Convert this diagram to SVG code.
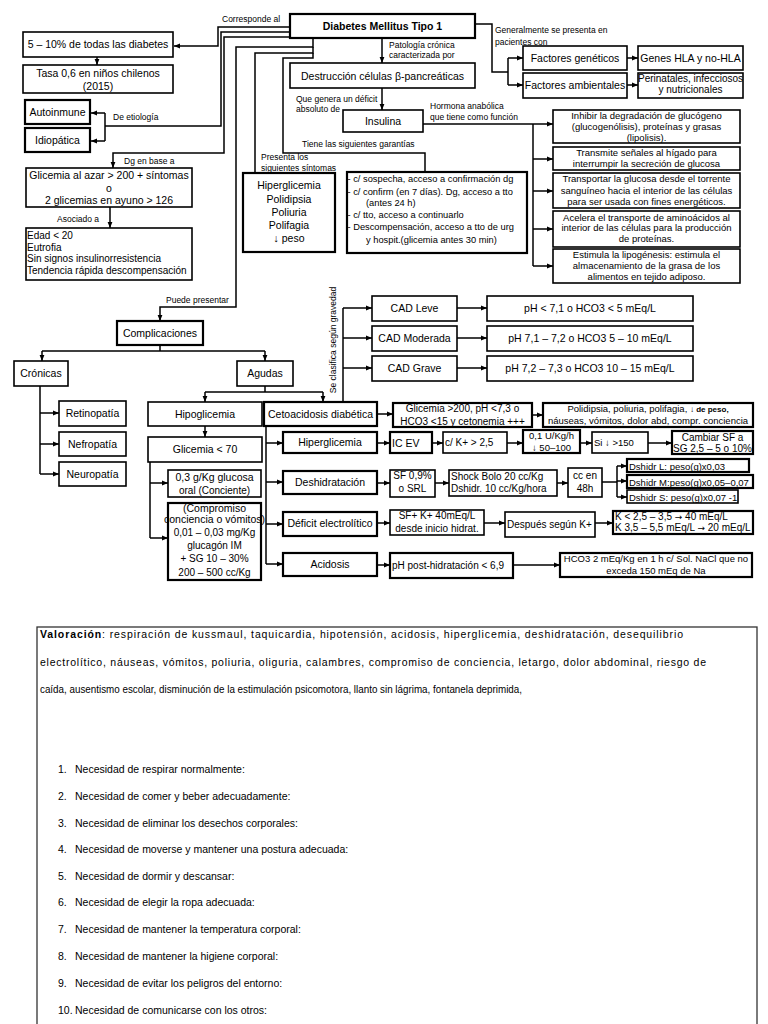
<svg xmlns="http://www.w3.org/2000/svg" width="768" height="1024" viewBox="0 0 768 1024">
<style>
text{font-family:"Liberation Sans",Arial,sans-serif;fill:#000;font-size:10.5px}
.b{fill:#fff;stroke:#000;stroke-width:1.6}
.bt{fill:#fff;stroke:#000;stroke-width:2.2}
.m{text-anchor:middle}
.l{font-size:8.5px}
.s{font-size:9.5px}
.s10{font-size:10px}
.g{font-size:9.3px}
.ar{font-family:"DejaVu Sans",sans-serif}
.c{fill:none;stroke:#000;stroke-width:1.5}
.a{marker-end:url(#ah)}
</style>
<defs>
<marker id="ah" viewBox="0 0 10 10" refX="10" refY="5" markerWidth="6" markerHeight="6" orient="auto" markerUnits="userSpaceOnUse"><path d="M0,1 L10,5 L0,9 z" fill="#000"/></marker>
</defs>
<rect width="768" height="1024" fill="#fff"/>

<g id="connectors">
<path class="c a" d="M290,27 H218 V46 H174"/>
<path class="c" d="M290,32 H221 V126 H105 M105,113 V141"/>
<path class="c a" d="M105,113 H91"/>
<path class="c a" d="M105,141 H91"/>
<path class="c a" d="M290,37 H224 V153 H113 V168"/>
<path class="c a" d="M97,57 V65"/>
<path class="c a" d="M110,207 V228"/>
<path class="c a" d="M313,38 V47 H236 V307 H160 V321"/>
<path class="c" d="M313,47 V53 H255 V173"/>
<path class="c" d="M313,53 V58 H283 V153 H425 V172"/>
<path class="c a" d="M382,38 V63"/>
<path class="c a" d="M382,88 V110"/>
<path class="c a" d="M423,124 H553"/>
<path class="c" d="M533,124 V266"/>
<path class="c a" d="M533,159 H553"/>
<path class="c a" d="M533,191 H553"/>
<path class="c a" d="M533,229 H553"/>
<path class="c a" d="M533,266 H553"/>
<path class="c" d="M475,24 H492 V72 H508 M508,58 V85"/>
<path class="c a" d="M508,58 H523"/>
<path class="c a" d="M508,85 H523"/>
<path class="c a" d="M627,58 H638"/>
<path class="c a" d="M627,85 H638"/>
<path class="c" d="M160,345 V351 M42,351 H265"/>
<path class="c a" d="M42,351 V361"/>
<path class="c a" d="M265,351 V361"/>
<path class="c" d="M40,386 V474"/>
<path class="c a" d="M40,413 H59"/>
<path class="c a" d="M40,444 H59"/>
<path class="c a" d="M40,474 H59"/>
<path class="c" d="M265,386 V392 M205,392 H323"/>
<path class="c a" d="M205,392 V402"/>
<path class="c a" d="M323,392 V402"/>
<path class="c a" d="M205,426 V437"/>
<path class="c" d="M150,462 V538"/>
<path class="c a" d="M150,483 H168"/>
<path class="c a" d="M150,538 H168"/>
<path class="c" d="M343,402 V308"/>
<path class="c a" d="M343,308 H372"/>
<path class="c a" d="M343,338 H372"/>
<path class="c a" d="M343,368 H372"/>
<path class="c a" d="M457,308 H487"/>
<path class="c a" d="M457,338 H487"/>
<path class="c a" d="M457,368 H487"/>
<path class="c a" d="M377,414 H393"/>
<path class="c a" d="M532,415 H543"/>
<path class="c" d="M266,426 V564"/>
<path class="c a" d="M266,443 H283"/>
<path class="c a" d="M266,482 H283"/>
<path class="c a" d="M266,524 H283"/>
<path class="c a" d="M266,564 H283"/>
<path class="c a" d="M377,443 H390"/>
<path class="c a" d="M377,483 H390"/>
<path class="c a" d="M377,523 H390"/>
<path class="c a" d="M377,565 H390"/>
<path class="c a" d="M432,443 H443"/>
<path class="c a" d="M507,443 H523"/>
<path class="c a" d="M580,443 H592"/>
<path class="c a" d="M648,443 H672"/>
<path class="c a" d="M435,483 H449"/>
<path class="c a" d="M557,483 H568"/>
<path class="c" d="M602,482 H617 M617,466 V497"/>
<path class="c a" d="M617,466 H627"/>
<path class="c a" d="M617,481 H627"/>
<path class="c a" d="M617,497 H627"/>
<path class="c a" d="M484,523 H505"/>
<path class="c a" d="M595,523 H613"/>
<path class="c a" d="M513,565 H560"/>
</g>

<g id="labels">
<text class="l" x="222" y="22">Corresponde al</text>
<text class="l" x="113" y="120">De etiología</text>
<text class="l" x="124" y="164">Dg en base a</text>
<text class="l" x="57" y="222">Asociado a</text>
<text class="l" x="166" y="303">Puede presentar</text>
<text class="l" x="389" y="48">Patología crónica</text>
<text class="l" x="389" y="58">caracterizada por</text>
<text class="l" x="296" y="102">Que genera un déficit</text>
<text class="l" x="296" y="112">absoluto de</text>
<text class="l" x="430" y="109">Hormona anabólica</text>
<text class="l" x="430" y="120">que tiene como función</text>
<text class="l" x="302" y="147">Tiene las siguientes garantías</text>
<text class="l" x="261" y="160">Presenta los</text>
<text class="l" x="261" y="171">siguientes síntomas</text>
<text class="l" x="495" y="33">Generalmente se presenta en</text>
<text class="l" x="495" y="45">pacientes con</text>
<text class="l m" transform="translate(336,340) rotate(-90)">Se clasifica según gravedad</text>
</g>

<g id="n-main"><rect class="bt" x="290" y="14" width="185" height="24"/><text class="m" x="382.5" y="30" font-weight="bold" font-size="11.5">Diabetes Mellitus Tipo 1</text></g>
<g id="n-pct"><rect class="b" x="23" y="32" width="150" height="25"/><text class="m" x="98" y="48">5 – 10% de todas las diabetes</text></g>
<g id="n-tasa"><rect class="b" x="23" y="65" width="150" height="28"/><text class="m" x="98" y="77">Tasa 0,6 en niños chilenos</text><text class="m" x="98" y="90">(2015)</text></g>
<g id="n-auto"><rect class="bt" x="25" y="100" width="65" height="24"/><text class="m" x="57.5" y="116">Autoinmune</text></g>
<g id="n-idio"><rect class="bt" x="25" y="128" width="65" height="24"/><text class="m" x="57.5" y="144">Idiopática</text></g>
<g id="n-glic"><rect class="b" x="26" y="168" width="166" height="39"/><text class="m" x="109" y="179">Glicemia al azar &gt; 200 + síntomas</text><text class="m" x="109" y="192">o</text><text class="m" x="109" y="204">2 glicemias en ayuno &gt; 126</text></g>
<g id="n-edad"><rect class="b" x="26" y="228" width="166" height="52"/><text class="s10" x="27" y="239">Edad &lt; 20</text><text class="s10" x="27" y="251">Eutrofia</text><text class="s10" x="27" y="262">Sin signos insulinorresistencia</text><text class="s10" x="27" y="274">Tendencia rápida descompensación</text></g>
<g id="n-destr"><rect class="b" x="290" y="63" width="185" height="25"/><text class="m" x="382.5" y="80">Destrucción células β-pancreáticas</text></g>
<g id="n-insul"><rect class="b" x="343" y="110" width="80" height="22"/><text class="m" x="383" y="125">Insulina</text></g>
<g id="n-sint"><rect class="bt" x="243" y="173" width="92" height="79"/><text class="m" x="289" y="189">Hiperglicemia</text><text class="m" x="289" y="203">Polidipsia</text><text class="m" x="289" y="216">Poliuria</text><text class="m" x="289" y="229">Polifagia</text><text class="m" x="289" y="242">↓ peso</text></g>
<g id="n-gar"><rect class="bt" x="347" y="172" width="180" height="81"/><text class="g" x="347.5" y="182">- c/ sospecha, acceso a confirmación dg</text><text class="g" x="347.5" y="195">- c/ confirm (en 7 días). Dg, acceso a tto</text><text class="g" x="366" y="206">(antes 24 h)</text><text class="g" x="347.5" y="218">- c/ tto, acceso a continuarlo</text><text class="g" x="347.5" y="230">- Descompensación, acceso a tto de urg</text><text class="g" x="366" y="243">y hospit.(glicemia antes 30 min)</text></g>
<g id="n-fg"><rect class="b" x="523" y="46" width="104" height="24"/><text class="m" x="575" y="62">Factores genéticos</text></g>
<g id="n-fa"><rect class="b" x="523" y="73" width="104" height="25"/><text class="m" x="575" y="89">Factores ambientales</text></g>
<g id="n-hla"><rect class="b" x="638" y="46" width="105" height="24"/><text class="m" x="690.5" y="62">Genes HLA y no-HLA</text></g>
<g id="n-peri"><rect class="b" x="638" y="73" width="105" height="25"/><text class="m s10" x="690.5" y="82">Perinatales, infecciosos</text><text class="m s10" x="690.5" y="93">y nutricionales</text></g>
<g id="n-f1"><rect class="b" x="553" y="110" width="187" height="33"/><text class="m s" x="646.5" y="118.5">Inhibir la degradación de glucógeno</text><text class="m s" x="646.5" y="130">(glucogenólisis), proteínas y grasas</text><text class="m s" x="646.5" y="141">(lipolisis).</text></g>
<g id="n-f2"><rect class="b" x="553" y="147" width="187" height="23"/><text class="m s" x="646.5" y="155.5">Transmite señales al hígado para</text><text class="m s" x="646.5" y="166.5">interrumpir la secreción de glucosa</text></g>
<g id="n-f3"><rect class="b" x="553" y="173" width="187" height="35"/><text class="m s" x="646.5" y="181.5">Transportar la glucosa desde el torrente</text><text class="m s" x="646.5" y="193.5">sanguíneo hacia el interior de las células</text><text class="m s" x="646.5" y="204.5">para ser usada con fines energéticos.</text></g>
<g id="n-f4"><rect class="b" x="553" y="211" width="187" height="36"/><text class="m s" x="646.5" y="220.5">Acelera el transporte de aminoácidos al</text><text class="m s" x="646.5" y="231">interior de las células para la producción</text><text class="m s" x="646.5" y="242">de proteínas.</text></g>
<g id="n-f5"><rect class="b" x="553" y="249" width="187" height="34"/><text class="m s" x="646.5" y="257.5">Estimula la lipogénesis: estimula el</text><text class="m s" x="646.5" y="268.5">almacenamiento de la grasa de los</text><text class="m s" x="646.5" y="279.5">alimentos en tejido adiposo.</text></g>

<g id="n-compl"><rect class="bt" x="117" y="321" width="86" height="24"/><text class="m" x="160" y="337">Complicaciones</text></g>
<g id="n-cron"><rect class="b" x="14" y="361" width="54" height="25"/><text class="m" x="41" y="377">Crónicas</text></g>
<g id="n-agud"><rect class="b" x="237" y="361" width="56" height="25"/><text class="m" x="265" y="377">Agudas</text></g>
<g id="n-retino"><rect class="b" x="59" y="401" width="67" height="25"/><text class="m" x="92.5" y="417">Retinopatía</text></g>
<g id="n-nefro"><rect class="b" x="59" y="432" width="67" height="24"/><text class="m" x="92.5" y="448">Nefropatía</text></g>
<g id="n-neuro"><rect class="b" x="59" y="462" width="67" height="24"/><text class="m" x="92.5" y="478">Neuropatía</text></g>
<g id="n-hipo"><rect class="b" x="148" y="402" width="114" height="24"/><text class="m" x="205" y="418">Hipoglicemia</text></g>
<g id="n-g70"><rect class="b" x="148" y="437" width="114" height="25"/><text class="m" x="205" y="453">Glicemia &lt; 70</text></g>
<g id="n-oral"><rect class="b" x="168" y="470" width="93" height="27"/><text class="m" x="214.5" y="481">0,3 g/Kg glucosa</text><text class="m s10" x="214.5" y="494">oral (Conciente)</text></g>
<g id="n-compr"><rect class="bt" x="168" y="503" width="93" height="77"/><text class="m" font-size="7.5" x="214.5" y="512">(Compromiso</text><text class="m" font-size="7.5" x="214.5" y="523">conciencia o vómitos)</text><text class="m s10" x="214.5" y="536">0,01 – 0,03 mg/Kg</text><text class="m s10" x="214.5" y="549">glucagón IM</text><text class="m s10" x="214.5" y="562">+ SG 10 – 30%</text><text class="m s10" x="214.5" y="576">200 – 500 cc/Kg</text></g>
<g id="n-ceto"><rect class="bt" x="264" y="402" width="113" height="24"/><text class="m" x="320.5" y="418">Cetoacidosis diabética</text></g>
<g id="n-chip"><rect class="bt" x="283" y="432" width="94" height="21"/><text class="m" x="330" y="446">Hiperglicemia</text></g>
<g id="n-cdes"><rect class="bt" x="283" y="471" width="94" height="23"/><text class="m" x="330" y="486">Deshidratación</text></g>
<g id="n-cdef"><rect class="bt" x="283" y="512" width="94" height="24"/><text class="m" x="330" y="527">Déficit electrolítico</text></g>
<g id="n-cacid"><rect class="bt" x="283" y="553" width="94" height="23"/><text class="m" x="330" y="568">Acidosis</text></g>
<g id="n-cadl"><rect class="b" x="372" y="296" width="85" height="25"/><text class="m" x="414.5" y="312">CAD Leve</text></g>
<g id="n-cadm"><rect class="b" x="372" y="326" width="85" height="25"/><text class="m" x="414.5" y="342">CAD Moderada</text></g>
<g id="n-cadg"><rect class="b" x="372" y="356" width="85" height="25"/><text class="m" x="414.5" y="372">CAD Grave</text></g>
<g id="n-phl"><rect class="b" x="487" y="296" width="206" height="25"/><text class="m" x="590" y="312">pH &lt; 7,1 o HCO3 &lt; 5 mEq/L</text></g>
<g id="n-phm"><rect class="b" x="487" y="326" width="206" height="25"/><text class="m" x="590" y="342">pH 7,1 – 7,2 o HCO3 5 – 10 mEq/L</text></g>
<g id="n-phg"><rect class="b" x="487" y="356" width="206" height="25"/><text class="m" x="590" y="372">pH 7,2 – 7,3 o HCO3 10 – 15 mEq/L</text></g>
<g id="n-g200"><rect class="bt" x="393" y="403" width="139" height="24"/><text class="m s10" x="462.5" y="411.5">Glicemia &gt;200, pH &lt;7,3 o</text><text class="m s10" x="462.5" y="425">HCO3 &lt;15 y cetonemia +++</text></g>
<g id="n-polid"><rect class="bt" x="543" y="403" width="210" height="24"/><text class="m s" x="648" y="412">Polidipsia, poliuria, polifagia, <tspan font-size="8" font-weight="bold">↓ de peso,</tspan></text><text class="m s" x="648" y="424">náuseas, vómitos, dolor abd, compr. conciencia</text></g>
<g id="n-icev"><rect class="bt" x="390" y="432" width="42" height="21"/><text x="392" y="447">IC EV</text></g>
<g id="n-ck"><rect class="b" x="443" y="432" width="64" height="21"/><text class="s10" x="445" y="446">c/ K+ &gt; 2,5</text></g>
<g id="n-dose"><rect class="bt" x="523" y="430" width="57" height="23"/><text class="m s" x="551.5" y="438.5">0,1 U/Kg/h</text><text class="m s" x="551.5" y="450.5">↓ 50–100</text></g>
<g id="n-si"><rect class="b" x="592" y="432" width="56" height="21"/><text class="s" x="594" y="446">Si ↓ &gt;150</text></g>
<g id="n-camb"><rect class="bt" x="672" y="431" width="81" height="23"/><text class="m s10" x="712.5" y="440.5">Cambiar SF a</text><text class="m s10" x="712.5" y="452">SG 2,5 – 5 o 10%</text></g>
<g id="n-sf"><rect class="b" x="390" y="470" width="45" height="27"/><text class="m s10" x="412.5" y="479">SF 0,9%</text><text class="m s10" x="412.5" y="491.5">o SRL</text></g>
<g id="n-shock"><rect class="b" x="449" y="470" width="108" height="26"/><text class="s10" x="451" y="479.5">Shock Bolo 20 cc/Kg</text><text class="s10" x="451" y="491.5">Dshidr. 10 cc/Kg/hora</text></g>
<g id="n-cc"><rect class="b" x="568" y="468" width="34" height="29"/><text class="m s10" x="585" y="478.5">cc en</text><text class="m s10" x="585" y="491.5">48h</text></g>
<g id="n-dl"><rect class="bt" x="627" y="459" width="122" height="13"/><text class="s" x="629" y="469.5">Dshidr L: peso(g)x0,03</text></g>
<g id="n-dm"><rect class="bt" x="627" y="475" width="126" height="13"/><text class="s" x="629" y="485.5">Dshidr M:peso(g)x0,05–0,07</text></g>
<g id="n-ds"><rect class="b" x="627" y="490" width="111" height="13"/><text class="s" x="629" y="500.5">Dshidr S: peso(g)x0,07 -1</text></g>
<g id="n-sfk"><rect class="b" x="390" y="510" width="94" height="25"/><text class="m s10" x="437" y="518.5">SF+ K+ 40mEq/L</text><text class="m s10" x="437" y="531.5">desde inicio hidrat.</text></g>
<g id="n-desp"><rect class="b" x="505" y="512" width="90" height="25"/><text class="s10" x="507" y="528">Después según K+</text></g>
<g id="n-k"><rect class="bt" x="613" y="511" width="140" height="23"/><text class="s10" x="615" y="519.5">K &lt; 2,5 – 3,5 <tspan class="ar" font-size="9">→</tspan> 40 mEq/L</text><text class="s10" x="615" y="530.5">K 3,5 – 5,5 mEq/L <tspan class="ar" font-size="9">→</tspan> 20 mEq/L</text></g>
<g id="n-phpost"><rect class="bt" x="390" y="553" width="123" height="25"/><text class="s10" x="392" y="569">pH post-hidratación &lt; 6,9</text></g>
<g id="n-hco3"><rect class="bt" x="560" y="553" width="192" height="24"/><text class="m s" x="656" y="561.5">HCO3 2 mEq/Kg en 1 h c/ Sol. NaCl que no</text><text class="m s" x="656" y="573.5">exceda 150 mEq de Na</text></g>

<g id="valoracion">
<rect x="37" y="627" width="720" height="410" fill="none" stroke="#333" stroke-width="1.3"/>
<text x="40" y="638" textLength="643" lengthAdjust="spacing"><tspan font-weight="bold">Valoración</tspan>: respiración de kussmaul, taquicardia, hipotensión, acidosis, hiperglicemia, deshidratación, desequilibrio</text>
<text x="40" y="666" textLength="666" lengthAdjust="spacing">electrolítico,  náuseas, vómitos, poliuria, oliguria, calambres, compromiso de conciencia, letargo, dolor abdominal, riesgo de</text>
<text x="40" y="693" font-size="10" textLength="482" lengthAdjust="spacingAndGlyphs">caída, ausentismo escolar, disminución de la estimulación psicomotora, llanto sin lágrima, fontanela deprimida,</text>
<text x="58" y="773">1.</text><text x="75" y="773">Necesidad de respirar normalmente:</text>
<text x="58" y="800">2.</text><text x="75" y="800">Necesidad de comer y beber adecuadamente:</text>
<text x="58" y="827">3.</text><text x="75" y="827">Necesidad de eliminar los desechos corporales:</text>
<text x="58" y="853">4.</text><text x="75" y="853">Necesidad de moverse y mantener una postura adecuada:</text>
<text x="58" y="880">5.</text><text x="75" y="880">Necesidad de dormir y descansar:</text>
<text x="58" y="906">6.</text><text x="75" y="906">Necesidad de elegir la ropa adecuada:</text>
<text x="58" y="933">7.</text><text x="75" y="933">Necesidad de mantener la temperatura corporal:</text>
<text x="58" y="960">8.</text><text x="75" y="960">Necesidad de mantener la higiene corporal:</text>
<text x="58" y="987">9.</text><text x="75" y="987">Necesidad de evitar los peligros del entorno:</text>
<text x="58" y="1014">10.</text><text x="75" y="1014">Necesidad de comunicarse con los otros:</text>
</g>
</svg>
